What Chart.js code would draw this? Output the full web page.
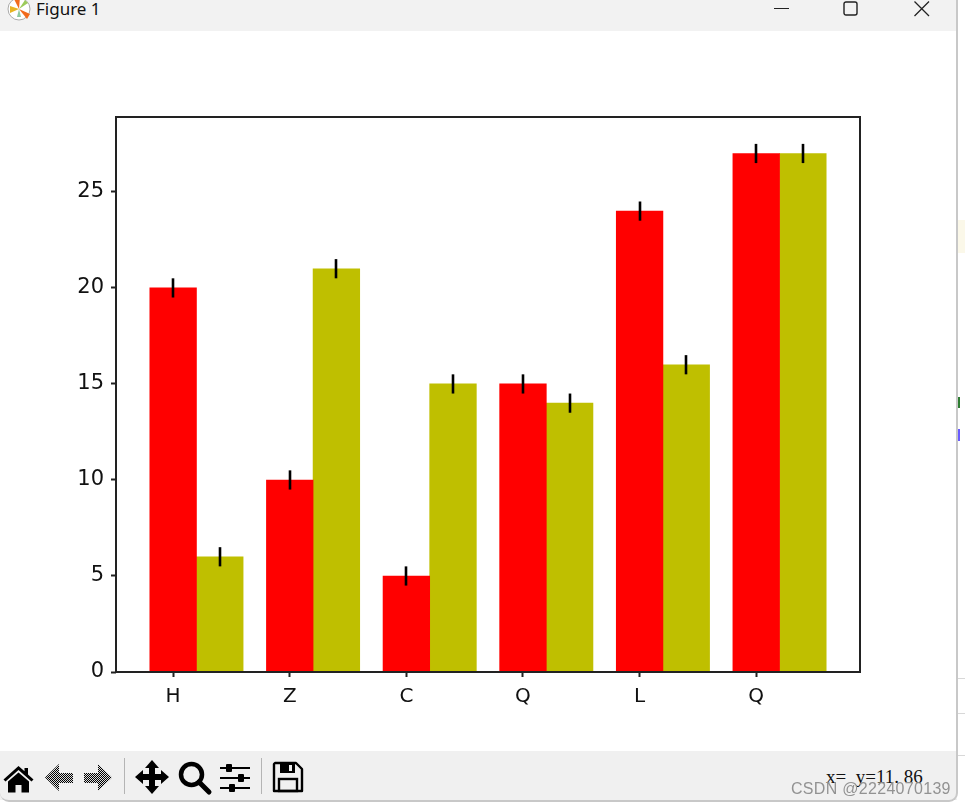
<!DOCTYPE html>
<html>
<head>
<meta charset="utf-8">
<title>Figure 1</title>
<script src="https://cdn.jsdelivr.net/npm/chart.js@4"></script>
<style>
  html, body { margin: 0; padding: 0; background: #fff; overflow: hidden; }
  #page { position: relative; width: 965px; height: 804px; overflow: hidden; }
  #plot { position: absolute; left: 0; top: 0; }
  .abs { position: absolute; }
  #titlebar { left: 0; top: 0; width: 957px; height: 31px; background: #f2f2f2; }
  #title { left: 36px; top: 0; font: 17px/18px "Noto Sans", sans-serif; color: #111; }
  #toolbar { left: 0; top: 751px; width: 957px; height: 49px; background: #f0f0f0; }
  #edge { left: 956px; top: 0; width: 2px; height: 790px; background: #c8c8c8; }
  #bottom { left: 0; top: 789px; width: 958px; height: 13px; box-sizing: border-box;
    border-right: 2px solid #c8c8c8; border-bottom: 2px solid #c8c8c8; border-radius: 0 0 9px 9px; }
  #status { left: 826px; top: 767px; font: 19px/20px "Liberation Serif", serif; color: #111; white-space: pre; }
  #mark { left: 791px; top: 779px; font: 16px/20px "Liberation Sans", sans-serif; color: #929292; letter-spacing: .3px; white-space: pre; }
  svg { position: absolute; overflow: visible; }
</style>
</head>
<body>
<div id="page">
  <canvas id="plot" width="965" height="804"></canvas>

  <div class="abs" id="titlebar"></div>
  <svg style="left:7px;top:-3px" width="24" height="24" viewBox="0 0 24 24">
    <circle cx="12" cy="12" r="11" fill="#fff" stroke="#aaa"/>
    <path d="M12 12L6 0H13Z" fill="#f26b1d"/><path d="M12 12L20 22L23 17Z" fill="#f26b1d"/>
    <path d="M12 12L3 9V16Z" fill="#e8b422"/><path d="M12 12L18 3L21 6Z" fill="#9ccb5a"/>
    <path d="M12 12L10 20L14 20Z" fill="#8ec9a0"/>
  </svg>
  <div class="abs" id="title">Figure 1</div>
  <svg style="left:774px;top:0" width="20" height="20"><path d="M0 8.5H15" stroke="#222" stroke-width="1"/></svg>
  <svg style="left:843px;top:1px" width="16" height="16"><rect x="1" y="1" width="13" height="13" rx="2" fill="none" stroke="#222" stroke-width="1.4"/></svg>
  <svg style="left:914px;top:1px" width="16" height="16"><path d="M0.5 0.5L15 15M15 0.5L0.5 15" stroke="#222" stroke-width="1.3"/></svg>

  <div class="abs" id="toolbar"></div>
  <div class="abs" id="edge"></div>
  <div class="abs" id="bottom"></div>
  <!-- home -->
  <svg style="left:3px;top:766px" width="31" height="27" viewBox="0 0 31 27">
    <path d="M15.5 0L0.5 13.5L2.5 15.5L15.5 4L28.5 15.5L30.5 13.5L25 8.5V2H21.5V5.3Z" fill="#000"/>
    <path d="M5 15.5L15.5 6.5L26 15.5V26.5H18.5V19H12.5V26.5H5Z" fill="#000"/>
  </svg>
  <!-- back -->
  <svg style="left:44px;top:762px" width="30" height="30" viewBox="0 0 30 30">
    <defs><pattern id="dots" width="2" height="2" patternUnits="userSpaceOnUse"><rect width="1" height="1" fill="#000"/><rect x="1" y="1" width="1" height="1" fill="#000"/><rect x="1" width="1" height="1" fill="#ddd"/><rect y="1" width="1" height="1" fill="#ddd"/></pattern></defs>
    <path d="M15 2L1 15.5L15 29V21H29V11H15Z" fill="url(#dots)"/>
  </svg>
  <!-- forward -->
  <svg style="left:83px;top:762px" width="30" height="30" viewBox="0 0 30 30">
    <path d="M15 2L29 15.5L15 29V21H1V11H15Z" fill="url(#dots)"/>
  </svg>
  <svg style="left:124px;top:758px" width="2" height="36"><rect width="1" height="36" fill="#b4b4b4"/></svg>
  <!-- move -->
  <svg style="left:135px;top:760px" width="34" height="34" viewBox="0 0 34 34">
    <path d="M17 0L24 8H20V14H26V10L34 17L26 24V20H20V26H24L17 34L10 26H14V20H8V24L0 17L8 10V14H14V8H10Z" fill="#000"/>
  </svg>
  <!-- zoom -->
  <svg style="left:178px;top:761px" width="33" height="33" viewBox="0 0 33 33">
    <circle cx="13.5" cy="13.5" r="10.5" fill="none" stroke="#000" stroke-width="4.5"/>
    <path d="M21 21L31 31" stroke="#000" stroke-width="5" stroke-linecap="round"/>
  </svg>
  <!-- subplots -->
  <svg style="left:220px;top:764px" width="30" height="28" viewBox="0 0 30 28">
    <path d="M0 4H30M0 14H30M0 24H30" stroke="#000" stroke-width="2"/>
    <rect x="6" y="0" width="6" height="8" rx="1" fill="#000"/>
    <rect x="18" y="10" width="6" height="8" rx="1" fill="#000"/>
    <rect x="9" y="20" width="6" height="8" rx="1" fill="#000"/>
  </svg>
  <svg style="left:261px;top:758px" width="2" height="36"><rect width="1" height="36" fill="#b4b4b4"/></svg>
  <!-- save -->
  <svg style="left:273px;top:762px" width="30" height="30" viewBox="0 0 30 30">
    <path d="M2 1H23L29 7V29H1V2Z" fill="none" stroke="#000" stroke-width="2.4" stroke-linejoin="round"/>
    <rect x="7" y="1" width="15" height="10" fill="#000"/><rect x="16" y="3" width="3" height="6" fill="#f0f0f0"/>
    <rect x="6" y="17" width="18" height="12" fill="none" stroke="#000" stroke-width="2.4"/>
  </svg>
  <div class="abs" id="status">x=  y=11. 86</div>
  <div class="abs" id="mark">CSDN @2224070139</div>

  <!-- bits of the desktop behind the window -->
  <div class="abs" style="left:958px;top:220px;width:7px;height:33px;background:#fbf8e9"></div>
  <div class="abs" style="left:958px;top:678px;width:7px;height:1px;background:#d8d8d8"></div>
  <div class="abs" style="left:958px;top:713px;width:7px;height:1px;background:#d8d8d8"></div>
  <div class="abs" style="left:958px;top:755px;width:7px;height:1px;background:#d8d8d8"></div>
  <div class="abs" style="left:958px;top:397px;width:2px;height:11px;background:#2e7d32"></div>
  <div class="abs" style="left:958px;top:429px;width:2px;height:12px;background:#6a5cff"></div>
</div>

<script>
// values
const categories = ["H", "Z", "C", "Q", "L", "Q"];
const redValues = [20, 10, 5, 15, 24, 27];
const oliveValues = [6, 21, 15, 14, 16, 27];
const yTicks = [0, 5, 10, 15, 20, 25];
const yError = 0.5;

const barWidth = 0.4;
const tickFont = { family: "'DejaVu Sans'", size: 20 };

const errorBars = {
  id: "errorBars",
  afterDatasetsDraw(chart) {
    const { ctx, scales: { x, y }, chartArea: a } = chart;
    ctx.save();
    ctx.strokeStyle = "#000";
    ctx.lineWidth = 2.6;
    chart.data.datasets.forEach((ds) => {
      ds.data.forEach((p) => {
        const px = Math.round(x.getPixelForValue(p.x));
        ctx.beginPath();
        ctx.moveTo(px, y.getPixelForValue(p.y + yError));
        ctx.lineTo(px, y.getPixelForValue(p.y - yError));
        ctx.stroke();
      });
    });
    // top and right spines, the axes only give left and bottom
    ctx.strokeStyle = "#222";
    ctx.lineWidth = 2;
    ctx.strokeRect(a.left, a.top, a.width, a.height);
    ctx.restore();
  },
};

new Chart(document.getElementById("plot"), {
  type: "bar",
  data: {
    datasets: [
      {
        label: "red",
        data: redValues.map((v, i) => ({ x: i, y: v })),
        backgroundColor: "#ff0000",
      },
      {
        label: "olive",
        data: oliveValues.map((v, i) => ({ x: i + barWidth, y: v })),
        backgroundColor: "#bfbf00",
      },
    ],
  },
  options: {
    responsive: false,
    animation: false,
    devicePixelRatio: 1,
    grouped: false,
    categoryPercentage: 1,
    barPercentage: 1,
    layout: { padding: { top: 117, right: 105, left: 0, bottom: 0 } },
    plugins: { legend: { display: false }, tooltip: { enabled: false } },
    scales: {
      x: {
        type: "linear",
        offset: false,
        min: -0.49,
        max: 5.89,
        afterBuildTicks(scale) {
          scale.ticks = categories.map((c, i) => ({ value: i }));
        },
        afterFit(scale) { scale.height = 132; },
        grid: { offset: false, drawOnChartArea: false, tickLength: 5, tickColor: "#222", tickWidth: 2 },
        border: { display: false },
        ticks: {
          autoSkip: false,
          maxRotation: 0,
          padding: 8,
          color: "#111",
          font: { family: "'DejaVu Sans'", size: 20 },
          callback: (v) => categories[v],
        },
      },
      y: {
        min: 0,
        max: 28.9,
        afterBuildTicks(scale) {
          scale.ticks = yTicks.map((v) => ({ value: v }));
        },
        afterFit(scale) { scale.width = 116; },
        grid: { drawOnChartArea: false, tickLength: 5, tickColor: "#222", tickWidth: 2 },
        border: { display: false },
        ticks: { padding: 7, color: "#111", font: { family: "'DejaVu Sans'", size: 21 } },
      },
    },
  },
  plugins: [errorBars],
});
</script>
</body>
</html>
